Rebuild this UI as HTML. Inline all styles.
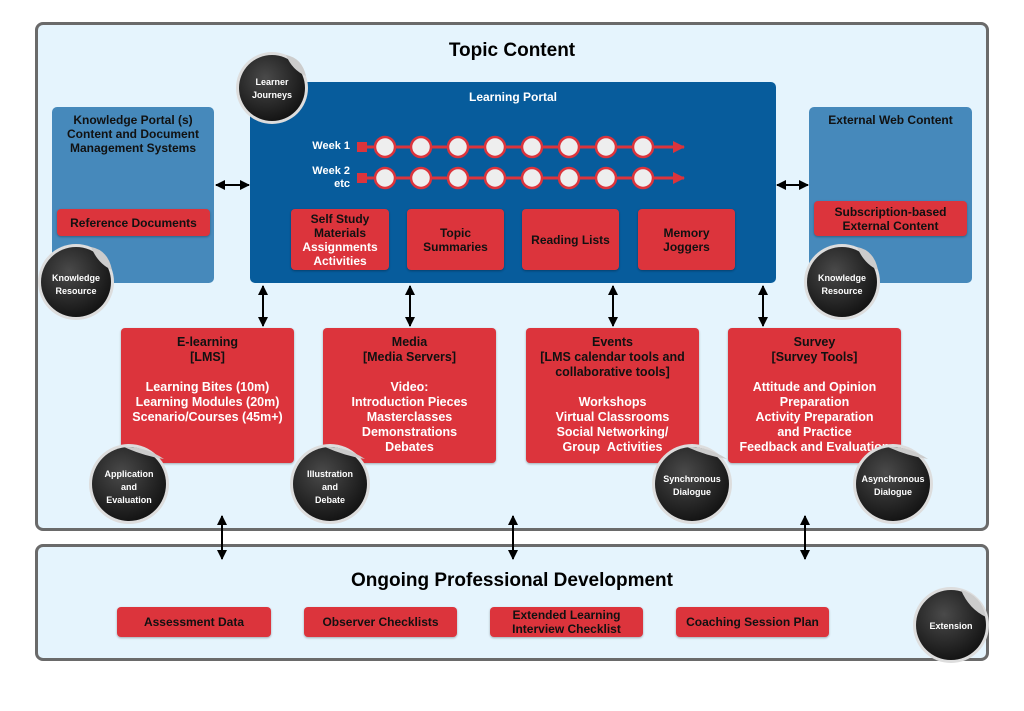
<!DOCTYPE html>
<html><head><meta charset="utf-8"><style>
*{margin:0;padding:0;box-sizing:border-box}
body{width:1024px;height:711px;background:#fff;position:relative;overflow:hidden;font-family:"Liberation Sans",Arial,sans-serif;font-weight:bold}
.a{position:absolute}
.frame{position:absolute;background:#e5f4fd;border:3px solid #6a6a6a;border-radius:8px}
.red{position:absolute;background:#dc343c;border-radius:4px;text-align:center;color:#111;box-shadow:0 1px 2px rgba(0,0,0,.3);display:flex;flex-direction:column;justify-content:center;font-size:12px;line-height:14px}
.big{justify-content:flex-start;padding-top:7px;font-size:12.5px;line-height:15px}
.big .w{color:#fff}
.lb{position:absolute;background:#4689bb;border-radius:5px;text-align:center;color:#111;font-size:12px;line-height:14px;padding-top:6px}
svg{position:absolute;left:0;top:0}
</style></head><body>
<div class="frame" style="left:35px;top:22px;width:954px;height:509px"></div>
<div class="frame" style="left:35px;top:544px;width:954px;height:117px"></div>
<div class="a" style="left:0;width:1024px;top:40px;text-align:center;font-size:19px">Topic Content</div>
<div class="a" style="left:0;width:1024px;top:570px;text-align:center;font-size:19px">Ongoing Professional Development</div>

<div class="lb" style="left:52px;top:107px;width:162px;height:176px">Knowledge Portal (s)<br>Content and Document<br>Management Systems</div>
<div class="red" style="left:57px;top:209px;width:153px;height:27px">Reference Documents</div>
<div class="lb" style="left:809px;top:107px;width:163px;height:176px">External Web Content</div>
<div class="red" style="left:814px;top:201px;width:153px;height:35px">Subscription-based<br>External Content</div>

<div class="a" style="left:250px;top:82px;width:526px;height:201px;background:#075c9c;border-radius:5px"></div>
<div class="a" style="left:250px;top:90px;width:526px;text-align:center;color:#fff;font-size:12px">Learning Portal</div>
<div class="a" style="left:300px;top:140px;width:50px;text-align:right;color:#fff;font-size:11px">Week 1</div>
<div class="a" style="left:300px;top:165px;width:50px;text-align:right;color:#fff;font-size:11px;line-height:13px">Week 2<br>etc</div>

<div class="red" style="left:291px;top:209px;width:98px;height:61px"><span>Self Study<br>Materials</span><span style="color:#fff">Assignments<br>Activities</span></div>
<div class="red" style="left:407px;top:209px;width:97px;height:61px">Topic<br>Summaries</div>
<div class="red" style="left:522px;top:209px;width:97px;height:61px">Reading Lists</div>
<div class="red" style="left:638px;top:209px;width:97px;height:61px">Memory<br>Joggers</div>

<div class="red big" style="left:121px;top:328px;width:173px;height:135px"><span>E-learning<br>[LMS]</span><br><span class="w">Learning Bites (10m)<br>Learning Modules (20m)<br>Scenario/Courses (45m+)</span></div>
<div class="red big" style="left:323px;top:328px;width:173px;height:135px"><span>Media<br>[Media Servers]</span><br><span class="w">Video:<br>Introduction Pieces<br>Masterclasses<br>Demonstrations<br>Debates</span></div>
<div class="red big" style="left:526px;top:328px;width:173px;height:135px"><span>Events<br>[LMS calendar tools and<br>collaborative tools]</span><br><span class="w">Workshops<br>Virtual Classrooms<br>Social Networking/<br>Group &nbsp;Activities</span></div>
<div class="red big" style="left:728px;top:328px;width:173px;height:135px"><span>Survey<br>[Survey Tools]</span><br><span class="w">Attitude and Opinion<br>Preparation<br>Activity Preparation<br>and Practice<br>Feedback and Evaluation</span></div>

<div class="red" style="left:117px;top:607px;width:154px;height:30px">Assessment Data</div>
<div class="red" style="left:304px;top:607px;width:153px;height:30px">Observer Checklists</div>
<div class="red" style="left:490px;top:607px;width:153px;height:30px">Extended Learning<br>Interview Checklist</div>
<div class="red" style="left:676px;top:607px;width:153px;height:30px">Coaching Session Plan</div>

<svg width="1024" height="711">
<defs>
<marker id="ah" markerWidth="10" markerHeight="10" refX="9" refY="5" orient="auto-start-reverse" markerUnits="userSpaceOnUse"><path d="M0,0 L10,5 L0,10 z" fill="#000"/></marker>
<marker id="rh" markerWidth="12" markerHeight="12" refX="11" refY="6" orient="auto" markerUnits="userSpaceOnUse"><path d="M0,0 L12,6 L0,12 z" fill="#dc343c"/></marker>
<radialGradient id="g" cx="0.4" cy="0.35" r="0.7"><stop offset="0" stop-color="#4a4a4a"/><stop offset="1" stop-color="#111"/></radialGradient>
</defs>
<g stroke="#000" stroke-width="2" marker-start="url(#ah)" marker-end="url(#ah)">
<line x1="216" y1="185" x2="249" y2="185"/><line x1="777" y1="185" x2="808" y2="185"/>
<line x1="263" y1="286" x2="263" y2="326"/><line x1="410" y1="286" x2="410" y2="326"/>
<line x1="613" y1="286" x2="613" y2="326"/><line x1="763" y1="286" x2="763" y2="326"/>
<line x1="222" y1="516" x2="222" y2="559"/><line x1="513" y1="516" x2="513" y2="559"/><line x1="805" y1="516" x2="805" y2="559"/>
</g>
<g>
<line x1="362" y1="147" x2="684" y2="147" stroke="#dc343c" stroke-width="3" marker-end="url(#rh)"/>
<line x1="362" y1="178" x2="684" y2="178" stroke="#dc343c" stroke-width="3" marker-end="url(#rh)"/>
<rect x="357" y="142" width="10" height="10" fill="#dc343c"/><rect x="357" y="173" width="10" height="10" fill="#dc343c"/>
<g fill="#eee" stroke="#dc343c" stroke-width="2.5">
<circle cx="385" cy="147" r="10"/><circle cx="421" cy="147" r="10"/><circle cx="458" cy="147" r="10"/><circle cx="495" cy="147" r="10"/><circle cx="532" cy="147" r="10"/><circle cx="569" cy="147" r="10"/><circle cx="606" cy="147" r="10"/><circle cx="643" cy="147" r="10"/>
<circle cx="385" cy="178" r="10"/><circle cx="421" cy="178" r="10"/><circle cx="458" cy="178" r="10"/><circle cx="495" cy="178" r="10"/><circle cx="532" cy="178" r="10"/><circle cx="569" cy="178" r="10"/><circle cx="606" cy="178" r="10"/><circle cx="643" cy="178" r="10"/>
</g></g>
<g font-family="Liberation Sans,Arial,sans-serif" font-size="9" font-weight="bold" fill="#fff" text-anchor="middle">
<g transform="translate(272,88)"><circle r="36" fill="#ddd"/><circle r="33" fill="url(#g)"/><path d="M14,-33 Q20,-18 34,-12 Q30,-30 14,-33z" fill="#ccc"/><text y="-3">Learner</text><text y="10">Journeys</text></g>
<g transform="translate(76,282)"><circle r="38" fill="#ddd"/><circle r="35" fill="url(#g)"/><path d="M15,-35 Q22,-18 36,-12 Q32,-32 15,-35z" fill="#ccc"/><text y="-1">Knowledge</text><text y="12">Resource</text></g>
<g transform="translate(842,282)"><circle r="38" fill="#ddd"/><circle r="35" fill="url(#g)"/><path d="M15,-35 Q22,-18 36,-12 Q32,-32 15,-35z" fill="#ccc"/><text y="-1">Knowledge</text><text y="12">Resource</text></g>
<g transform="translate(129,484)"><circle r="40" fill="#ddd"/><circle r="37" fill="url(#g)"/><path d="M-5,-37 Q15,-28 35,-25 Q15,-38 -5,-37z" fill="#ccc"/><text y="-7">Application</text><text y="6">and</text><text y="19">Evaluation</text></g>
<g transform="translate(330,484)"><circle r="40" fill="#ddd"/><circle r="37" fill="url(#g)"/><path d="M-5,-37 Q15,-28 35,-25 Q15,-38 -5,-37z" fill="#ccc"/><text y="-7">Illustration</text><text y="6">and</text><text y="19">Debate</text></g>
<g transform="translate(692,484)"><circle r="40" fill="#ddd"/><circle r="37" fill="url(#g)"/><path d="M-5,-37 Q15,-28 35,-25 Q15,-38 -5,-37z" fill="#ccc"/><text y="-2">Synchronous</text><text y="11">Dialogue</text></g>
<g transform="translate(893,484)"><circle r="40" fill="#ddd"/><circle r="37" fill="url(#g)"/><path d="M-5,-37 Q15,-28 35,-25 Q15,-38 -5,-37z" fill="#ccc"/><text y="-2">Asynchronous</text><text y="11">Dialogue</text></g>
<g transform="translate(951,625)"><circle r="38" fill="#ddd"/><circle r="35" fill="url(#g)"/><path d="M10,-35 Q18,-16 35,-8 Q30,-30 10,-35z" fill="#ccc"/><text y="4">Extension</text></g>
</g>
</svg>
</body></html>
